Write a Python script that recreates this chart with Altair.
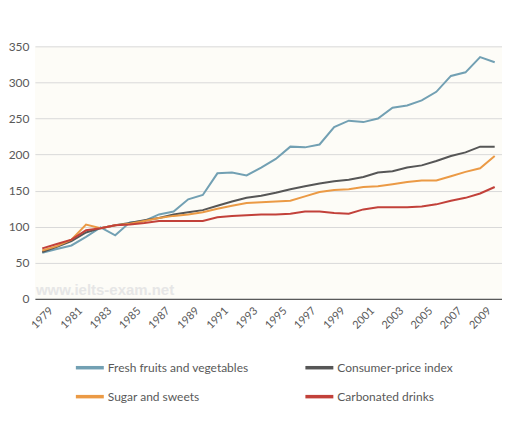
import altair as alt
import pandas as pd

years = list(range(1979, 2011))
fresh = [64, 69, 74, 86, 99, 88, 106, 108, 117, 121, 138, 144, 174, 175, 171, 182,
         194, 211, 210, 214, 238, 247, 245, 250, 265, 268, 275, 287, 309, 314, 335, 328]
cpi = [65, 72, 80, 92, 98, 102, 105, 109, 112, 117, 120, 123, 129, 135, 140, 143,
       147, 152, 156, 160, 163, 165, 169, 175, 177, 182, 185, 191, 198, 203, 211, 211]
sugar = [67, 73, 82, 103, 98, 102, 104, 108, 112, 115, 117, 120, 125, 129, 133, 134,
         135, 136, 142, 148, 151, 152, 155, 156, 159, 162, 164, 164, 170, 176, 181, 198]
carb = [70, 76, 82, 95, 98, 102, 103, 105, 108, 108, 108, 108, 113, 115, 116, 117,
        117, 118, 121, 121, 119, 118, 124, 127, 127, 127, 128, 131, 136, 140, 146, 155]

series_names = ["Fresh fruits and vegetables", "Consumer-price index",
                "Sugar and sweets", "Carbonated drinks"]
colors = ["#72A0B3", "#565656", "#EB9A45", "#C2413A"]
tick_years = list(range(1979, 2010, 2))
y_ticks = list(range(0, 351, 50))
watermark = ["www.ielts-exam.net"]

rows = []
for name, vals in zip(series_names, [fresh, cpi, sugar, carb]):
    for yr, v in zip(years, vals):
        rows.append({"year": yr, "value": v, "series": name})
df = pd.DataFrame(rows)

FONT = "Lato"
LABEL = "#595959"

wm = alt.Chart(pd.DataFrame({"t": watermark})).mark_text(
    align="left", baseline="bottom", fontSize=15, fontWeight="bold",
    color="#E6E6E6", font="Liberation Sans"
).encode(x=alt.value(1), y=alt.value(252), text="t:N")

lines = alt.Chart(df).mark_line(strokeWidth=2).encode(
    x=alt.X("year:O", title=None,
            scale=alt.Scale(type="point", padding=0.5),
            axis=alt.Axis(values=tick_years, labelAngle=-45, labelAlign="center",
                          labelBaseline="middle", labelPadding=19,
                          ticks=False, grid=False, domainColor="#595959",
                          domainWidth=1.3, labelColor=LABEL, labelFontSize=11,
                          labelFont=FONT)),
    y=alt.Y("value:Q", title=None,
            scale=alt.Scale(domain=[0, 350], nice=False),
            axis=alt.Axis(values=y_ticks, ticks=False, domain=False,
                          gridColor="#D9D9D9", gridWidth=1, labelPadding=6,
                          labelColor=LABEL, labelFontSize=12, labelFont=FONT)),
    color=alt.Color("series:N", sort=series_names,
                    scale=alt.Scale(domain=series_names, range=colors),
                    legend=alt.Legend(title=None, orient="none", legendX=39, legendY=306,
                                      direction="horizontal",
                                      columns=2, columnPadding=49, rowPadding=6,
                                      symbolType="stroke", symbolSize=784,
                                      symbolStrokeWidth=3.5, labelOffset=2,
                                      labelFontSize=12, labelColor=LABEL,
                                      labelFont=FONT, padding=0)),
)

chart = alt.layer(wm, lines).properties(
    width=468, height=253,
    autosize=alt.AutoSizeParams(type="none"),
    padding={"left": 27, "top": 38, "right": 0, "bottom": 140},
).configure_view(stroke=None, fill="#FDFCF7")

chart.save("out.html", embed_options={"renderer": "svg", "actions": False})
